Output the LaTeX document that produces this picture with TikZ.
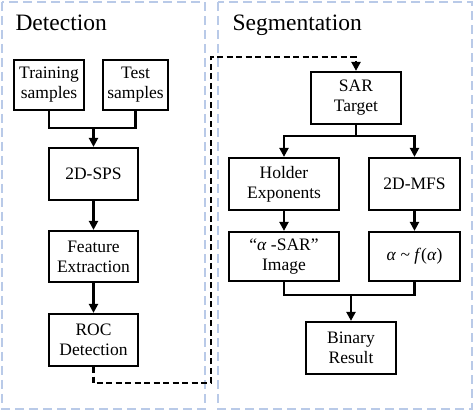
\documentclass[tikz,border=0pt]{standalone}
\usepackage{fontspec}
\setmainfont{Liberation Serif}
\usetikzlibrary{arrows.meta}
\definecolor{panelblue}{RGB}{185,202,232}
\begin{document}
\begin{tikzpicture}[x=1pt,y=-1pt,
 box/.style={draw,line width=2.2pt,align=center,font=\fontsize{17.5}{20}\selectfont,inner sep=0pt},
 panel/.style={draw=panelblue,line width=2.4pt,dash pattern=on 9pt off 5pt},
 arr/.style={line width=2.2pt,-{Triangle[length=9pt,width=9pt]}},
 ln/.style={line width=2.2pt},
 dsh/.style={line width=2.4pt,dash pattern=on 6pt off 3.5pt},
 ttl/.style={anchor=base west,font=\fontsize{23.5}{26}\selectfont}]
\useasboundingbox (0,0) rectangle (474,411);
\draw[panel] (2,2) rectangle (205,409);
\draw[panel] (218,2) rectangle (472,409);
\node[ttl] (t1) at (12,31) {Detection};
\node[ttl] (t2) at (229,31) {Segmentation};
\node[box,minimum width=70,minimum height=50] (train) at (49,85) {Training\\samples};
\node[box,minimum width=65,minimum height=50] (test) at (135.5,85) {Test\\samples};
\node[box,minimum width=89,minimum height=52] (sps) at (93.5,174) {2D-SPS};
\node[box,minimum width=89,minimum height=51] (feat) at (93.5,256.5) {Feature\\Extraction};
\node[box,minimum width=89,minimum height=52] (roc) at (93.5,340) {ROC\\Detection};
\node[box,minimum width=90,minimum height=52] (sar) at (356,98) {SAR\\Target};
\node[box,minimum width=110,minimum height=52] (holder) at (284,184) {Holder\\Exponents};
\node[box,minimum width=91,minimum height=52] (mfs) at (414.5,184) {2D-MFS};
\node[box,minimum width=110,minimum height=49] (asar) at (284,256.5) {“\textit{α} -SAR”\\Image};
\node[box,minimum width=91,minimum height=49] (af) at (414.5,256.5) {\textit{α} \textasciitilde{} \textit{f}(\textit{α})};
\node[box,minimum width=90,minimum height=52] (bin) at (351,348) {Binary\\Result};
\coordinate (j1) at (93.5,128);
\draw[ln] (train.south) |- (j1) -| (test.south);
\draw[arr] (j1) -- (sps.north);
\draw[arr] (sps.south) -- (feat.north);
\draw[arr] (feat.south) -- (roc.north);
\coordinate (d1) at (211,383);
\coordinate (d2) at (211,57);
\draw[dsh,-{Triangle[length=9pt,width=9pt]}] (roc.south) |- (d1) -- (d2) -| (sar.north);
\coordinate (j2) at (356,136);
\draw[ln] (sar.south) -- (j2);
\draw[arr] (j2) -| (holder.north);
\draw[arr] (j2) -| (mfs.north);
\draw[arr] (holder.south) -- (asar.north);
\draw[arr] (mfs.south) -- (af.north);
\coordinate (j3) at (351,295);
\draw[ln] (asar.south) |- (j3) -| (af.south);
\draw[arr] (j3) -- (bin.north);
\end{tikzpicture}
\end{document}
